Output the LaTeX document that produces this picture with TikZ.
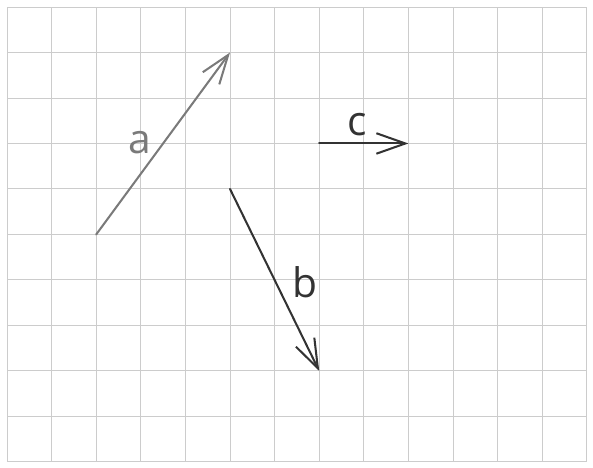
\documentclass[tikz,border=0pt]{standalone}
\usepackage{fontspec}
\setmainfont{Open Sans}
\usetikzlibrary{arrows.meta}
\definecolor{gridgray}{HTML}{CCCCCC}
\definecolor{vecgray}{HTML}{7A7A7A}
\definecolor{vecdark}{HTML}{333333}
\begin{document}
\begin{tikzpicture}[x=1cm,y=1.02cm,
vector/.style={line width=1.3pt,line cap=round,line join=round,
  -{Straight Barb[length=6.5mm,width=4.6mm,line width=1.3pt]}},
label/.style={inner sep=0pt,font=\fontsize{26}{30}\selectfont}
]

\tikzstyle{paper} = [gridgray,line width=0.6pt]

  \useasboundingbox (-0.157,-0.132) rectangle (13.139,10.154);
  \draw[paper,step=1] (0,0) grid (13,10);

  \coordinate (astart) at (2,5);
  \coordinate (aend)   at (5,9);
  \coordinate (bstart) at (5,6);
  \coordinate (bend)   at (7,2);
  \coordinate (cstart) at (7,7);
  \coordinate (cend)   at (9,7);

  \node (alabel) [label,text=vecgray] at (2.98,7.01) {a};
  \node (blabel) [label,text=vecdark] at (6.68,3.96) {b};
  \node (clabel) [label,text=vecdark] at (7.85,7.41) {c};

\draw[vector,vecgray] (astart) -- (aend);
\draw[vector,vecdark] (bstart) -- (bend);
\draw[vector,vecdark] (cstart) -- (cend);

\end{tikzpicture}
\end{document}
